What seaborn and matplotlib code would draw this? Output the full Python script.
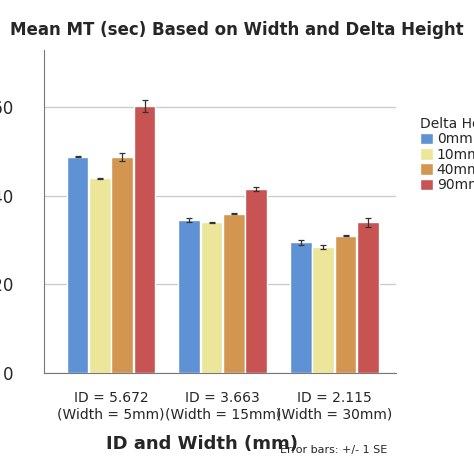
import numpy as np
import pandas as pd
import seaborn as sns
import matplotlib.pyplot as plt

groups = ["ID = 5.672\n(Width = 5mm)", "ID = 3.663\n(Width = 15mm)", "ID = 2.115\n(Width = 30mm)"]
heights = ["0mm", "10mm", "40mm", "90mm"]
means = [[0.488, 0.440, 0.488, 0.603],
         [0.345, 0.340, 0.360, 0.415],
         [0.295, 0.285, 0.310, 0.340]]
errs = [[0.001, 0.001, 0.010, 0.014],
        [0.005, 0.001, 0.001, 0.005],
        [0.005, 0.005, 0.001, 0.010]]
colors = ["#4a90e8", "#f8f28c", "#e8983a", "#dc3f3f"]

rows = []
for gi, g in enumerate(groups):
    for hi, h in enumerate(heights):
        rows.append({"group": g, "height": h, "mt": means[gi][hi], "se": errs[gi][hi]})
df = pd.DataFrame(rows)

sns.set_style("white")
fig = plt.figure(figsize=(4.74, 4.74), dpi=100)
ax = fig.add_axes([0.093, 0.213, 0.742, 0.682])
sns.barplot(data=df, x="group", y="mt", hue="height", palette=colors,
            errorbar=None, width=0.8, gap=0.03, ax=ax, legend=True)

bar_conts = list(ax.containers)
for hi, cont in enumerate(bar_conts):
    for gi, bar in enumerate(cont):
        x = bar.get_x() + bar.get_width() / 2
        ax.errorbar(x, means[gi][hi], yerr=errs[gi][hi], color="#333333",
                    capsize=2, lw=0.9, capthick=0.9)

ax.set_ylim(0, 0.73)
ax.set_xlim(-0.6, 2.55)
ax.set_yticks([0, 0.2, 0.4, 0.6])
ax.set_yticklabels(["0", ".20", ".40", ".60"], fontsize=12)
ax.yaxis.grid(True, color="#cccccc", lw=1)
ax.set_axisbelow(True)
for s in ["top", "right"]:
    ax.spines[s].set_visible(False)
ax.spines["left"].set_color("#777777")
ax.spines["bottom"].set_color("#777777")
ax.tick_params(axis="x", length=5, color="#555555", labelsize=10, pad=8)
ax.tick_params(axis="y", length=0, pad=22)
ax.set_xlabel("ID and Width (mm)", fontsize=13, fontweight="bold", labelpad=10, x=0.45)
ax.set_ylabel("")
fig.suptitle("Mean MT (sec) Based on Width and Delta Height", fontsize=12,
             fontweight="bold", x=0.5, y=0.955)

leg = ax.get_legend()
handles = leg.legend_handles
leg.remove()
fig.legend(handles, heights, title="Delta Height", loc="upper left",
           bbox_to_anchor=(0.86, 0.78), frameon=False, fontsize=10,
           title_fontsize=10, handlelength=0.9, handleheight=0.9,
           handletextpad=0.3, labelspacing=0.1, alignment="left")
fig.text(0.59, 0.045, "Error bars: +/- 1 SE", fontsize=8)

fig.savefig("out.png", dpi=100)
